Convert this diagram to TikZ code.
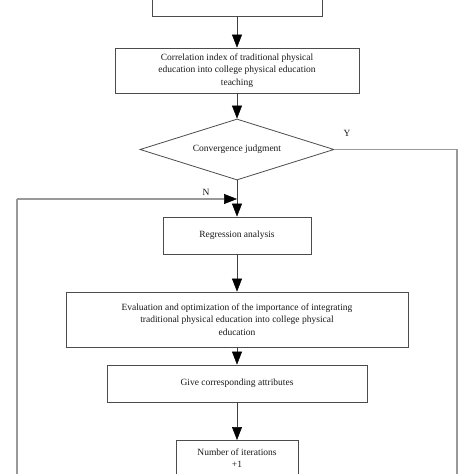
\documentclass[tikz,border=0pt]{standalone}
\usepackage{fontspec}
\setmainfont{Liberation Serif}
\usetikzlibrary{arrows.meta,shapes.geometric}
\begin{document}
\begin{tikzpicture}[x=1bp,y=-1bp,
  box/.style={draw=black!70,line width=0.8bp,rectangle,inner sep=0,align=center,
    font=\fontsize{9.5bp}{12.5bp}\selectfont,text=black!90},
  dia/.style={draw=black!70,line width=0.8bp,diamond,inner sep=0,aspect=3.18,
    font=\fontsize{9.5bp}{12.5bp}\selectfont,text=black!90},
  tip/.style={-{Triangle[length=13bp,width=10bp,color=black,fill=black,line width=0.5bp]}},
  flow/.style={draw=black!75,line width=0.8bp,tip},
  loop/.style={draw=black!40,line width=1.6bp},
  lbl/.style={font=\fontsize{9.5bp}{10bp}\selectfont,text=black!90,inner sep=0}]
\useasboundingbox (0,0) rectangle (474,474);
\fill[white] (0,0) rectangle (474,474);
\node[box,minimum width=170bp,minimum height=40bp] (b1) at (237,-4) {};
\node[box,minimum width=244bp,minimum height=45bp] (b2) at (237,70.5)
  {Correlation index of traditional physical\\education into college physical education\\teaching};
\node[dia,minimum width=194bp,minimum height=61bp] (d) at (237,149.5) {Convergence judgment};
\node[box,minimum width=148bp,minimum height=37bp] (b3) at (237,235.5) {Regression analysis};
\node[box,minimum width=342bp,minimum height=55bp] (b4) at (237,319.5)
  {Evaluation and optimization of the importance of integrating\\traditional physical education into college physical\\education};
\node[box,minimum width=260bp,minimum height=37bp] (b5) at (237,383.5) {Give corresponding attributes};
\node[box,minimum width=122bp,minimum height=46bp,anchor=north] (b6) at (237,440) {Number of iterations\\+1\\[-1.5bp]};
\coordinate (m) at (237,199);
\coordinate (lb) at (17,480);
\coordinate (lt) at (17,199);
\coordinate (rt) at (457,149.5);
\coordinate (rb) at (457,480);
\draw[flow] (b1.south) -- (b2.north);
\draw[flow] (b2.south) -- (d.north);
\draw[flow] (d.south) -- (b3.north);
\draw[flow] (b3.south) -- (b4.north);
\draw[flow] (b4.south) -- (b5.north);
\draw[flow] (b5.south) -- (b6.north);
\draw[loop] (lb) -- (lt);
\draw[loop,tip] (lt) -- (m);
\draw[loop] (d.east) -- (rt) -- (rb);
\node[lbl] (ny) at (347,133) {Y};
\node[lbl] (nn) at (206,192) {N};
\end{tikzpicture}
\end{document}
